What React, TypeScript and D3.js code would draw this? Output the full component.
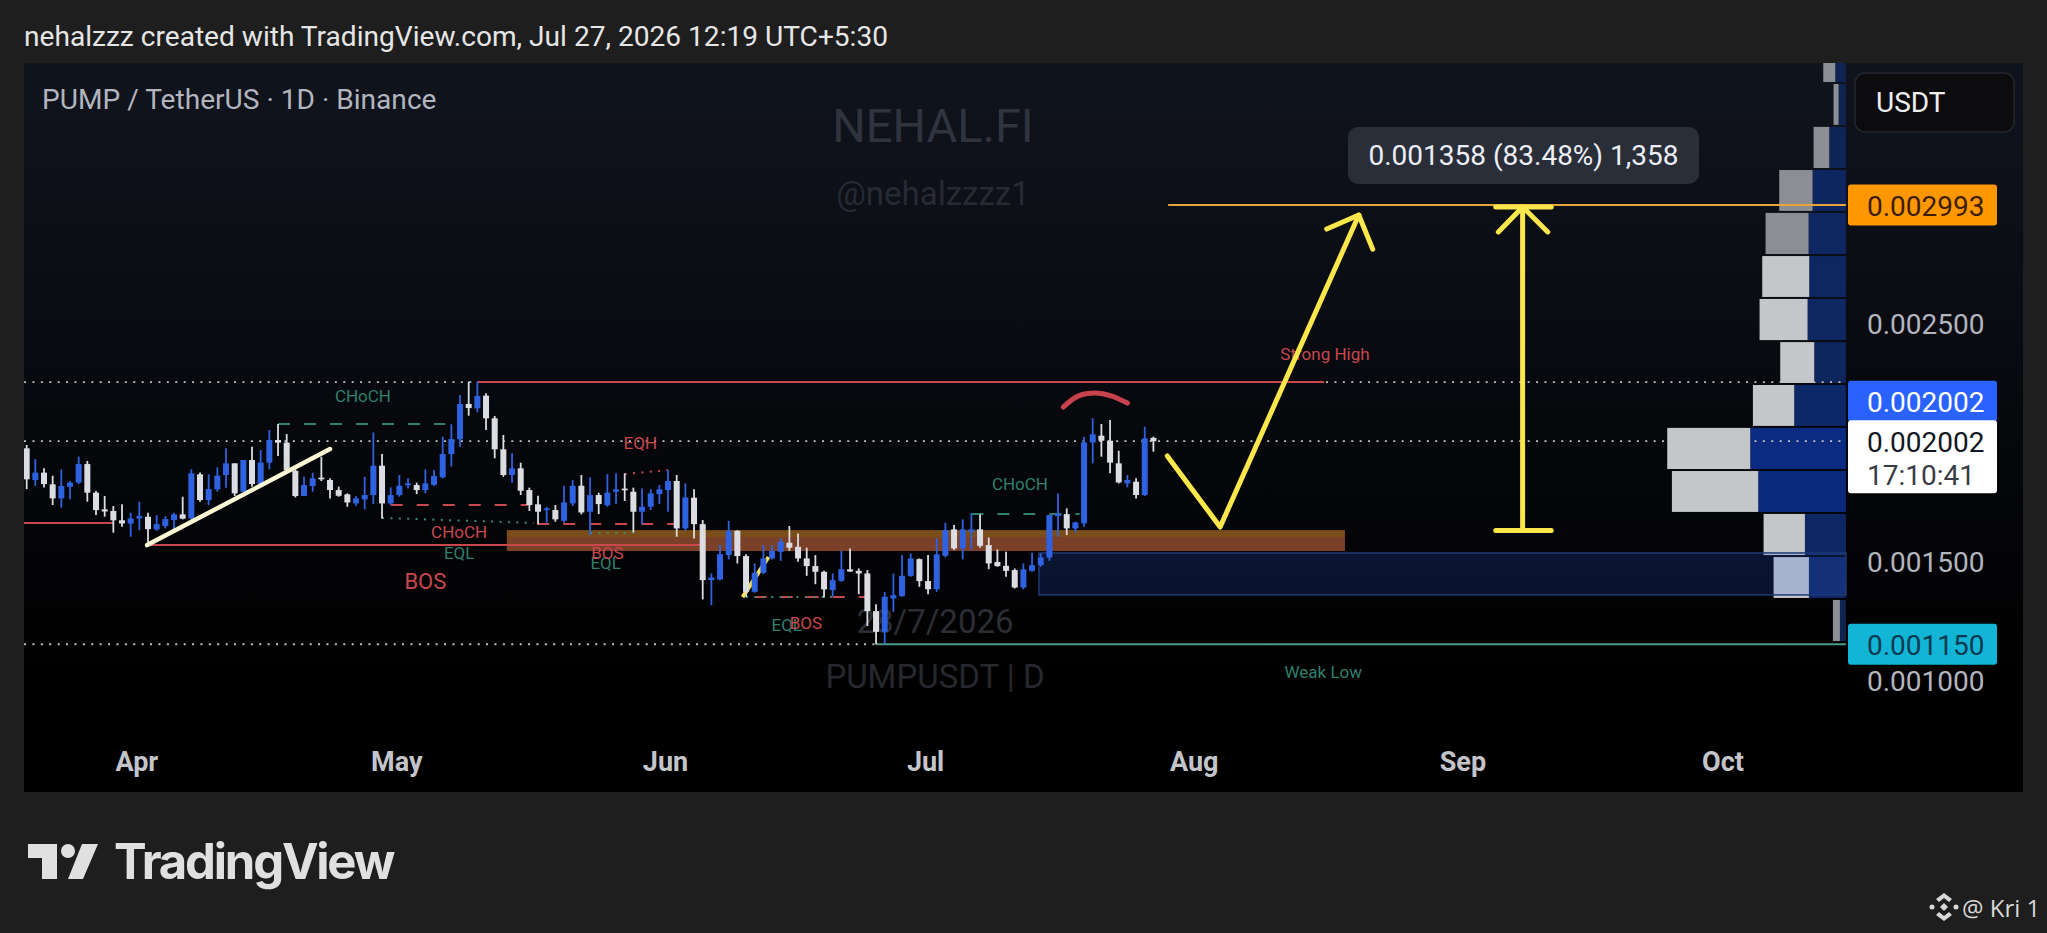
import { useEffect, useRef } from "react"
import * as d3 from "d3"

const WIDTH = 2047
const HEIGHT = 933
const FONT = "Roboto, sans-serif"

// daily candles from 2026-03-19 to 2026-07-27, prices in millionths of USDT
const opens = [
  1972, 1839, 1870, 1821, 1762, 1811, 1828, 1906, 1786, 1716, 1709, 1670, 1656, 1678, 1685, 1632, 1646, 1671, 1695, 1678,
  1863, 1755, 1800, 1860, 1909, 1790, 1923, 1822, 1912, 2007, 1996, 1878, 1772, 1814, 1849, 1839, 1797, 1779, 1741, 1758,
  1776, 1899, 1741, 1776, 1817, 1818, 1797, 1819, 1850, 1948, 2010, 2158, 2140, 2193, 2098, 1968, 1860, 1888, 1797, 1737,
  1713, 1713, 1668, 1741, 1815, 1706, 1776, 1733, 1790, 1803, 1790, 1706, 1727, 1780, 1797, 1835, 1636, 1765, 1654, 1419,
  1422, 1524, 1626, 1520, 1370, 1450, 1510, 1538, 1576, 1559, 1510, 1478, 1454, 1377, 1416, 1464, 1458, 1447, 1289, 1202,
  1342, 1352, 1437, 1507, 1415, 1381, 1521, 1632, 1552, 1622, 1632, 1566, 1495, 1479, 1461, 1388, 1458, 1482, 1514, 1688,
  1696, 1636, 1657, 1997, 2025, 2004, 1909, 1825, 1832, 1776, 2016,
]
const highs = [
  1986, 1927, 1888, 1857, 1884, 1835, 1937, 1919, 1793, 1772, 1730, 1737, 1702, 1748, 1702, 1692, 1688, 1702, 1769, 1884,
  1871, 1863, 1892, 1972, 1909, 1923, 1979, 1965, 2049, 2074, 2032, 1892, 1853, 1870, 1937, 1846, 1811, 1783, 1772, 1853,
  2039, 1948, 1808, 1860, 1846, 1828, 1884, 1881, 2021, 2073, 2196, 2252, 2252, 2203, 2108, 2028, 1951, 1912, 1807, 1773,
  1727, 1734, 1814, 1839, 1860, 1850, 1786, 1864, 1867, 1867, 1807, 1804, 1801, 1818, 1881, 1860, 1825, 1800, 1671, 1447,
  1566, 1668, 1629, 1528, 1489, 1566, 1566, 1594, 1646, 1615, 1555, 1524, 1458, 1447, 1542, 1552, 1468, 1461, 1318, 1370,
  1447, 1524, 1531, 1510, 1524, 1594, 1660, 1650, 1674, 1699, 1695, 1598, 1548, 1538, 1468, 1489, 1534, 1531, 1692, 1783,
  1720, 1664, 2021, 2098, 2074, 2091, 1962, 1860, 1846, 2063, 2021,
]
const lows = [
  1801, 1814, 1808, 1734, 1723, 1758, 1822, 1748, 1692, 1685, 1618, 1643, 1601, 1629, 1573, 1626, 1636, 1629, 1674, 1671,
  1748, 1734, 1790, 1807, 1772, 1776, 1811, 1811, 1884, 1940, 1878, 1766, 1772, 1790, 1835, 1762, 1769, 1727, 1731, 1716,
  1738, 1678, 1734, 1769, 1804, 1780, 1783, 1814, 1846, 1895, 1979, 2109, 2123, 2049, 1930, 1853, 1828, 1776, 1709, 1654,
  1660, 1664, 1660, 1730, 1695, 1608, 1696, 1727, 1738, 1751, 1619, 1654, 1713, 1738, 1706, 1601, 1626, 1594, 1338, 1314,
  1419, 1506, 1489, 1349, 1366, 1444, 1506, 1500, 1542, 1496, 1437, 1402, 1346, 1349, 1412, 1454, 1360, 1226, 1150, 1153,
  1286, 1349, 1433, 1391, 1360, 1370, 1514, 1545, 1506, 1548, 1555, 1465, 1475, 1433, 1384, 1380, 1454, 1475, 1500, 1601,
  1608, 1618, 1643, 1909, 1937, 1867, 1825, 1808, 1762, 1772, 1958,
]
const closes = [
  1842, 1870, 1822, 1762, 1814, 1828, 1906, 1786, 1713, 1707, 1670, 1657, 1678, 1688, 1633, 1654, 1675, 1695, 1677, 1867,
  1755, 1801, 1857, 1909, 1783, 1923, 1822, 1912, 2007, 1996, 1881, 1772, 1818, 1846, 1842, 1797, 1773, 1745, 1762, 1776,
  1899, 1741, 1776, 1815, 1825, 1797, 1825, 1856, 1948, 2011, 2158, 2141, 2192, 2098, 1968, 1860, 1888, 1794, 1734, 1706,
  1720, 1674, 1745, 1815, 1703, 1776, 1738, 1786, 1800, 1796, 1706, 1727, 1783, 1800, 1835, 1636, 1766, 1654, 1419, 1430,
  1528, 1626, 1520, 1370, 1450, 1510, 1542, 1580, 1555, 1510, 1478, 1454, 1380, 1419, 1465, 1455, 1447, 1289, 1202, 1349,
  1356, 1437, 1510, 1415, 1381, 1527, 1629, 1552, 1632, 1632, 1563, 1489, 1478, 1458, 1388, 1464, 1482, 1514, 1692, 1696,
  1636, 1661, 1997, 2031, 2004, 1912, 1829, 1839, 1776, 2014, 2002,
]

const monthTicks = ["2026-04-01", "2026-05-01", "2026-06-01", "2026-07-01", "2026-08-01", "2026-09-01", "2026-10-01"]
const priceTicks = [1000, 1500, 2500]

// visible range profile, bottom bin first
const profileEdges = [1159, 1340, 1520, 1701, 1881, 2062, 2242, 2422, 2603, 2783, 2964, 3144, 3325, 3505, 3686]
const profileUp = [18, 111, 123, 263, 287, 155, 95, 115, 110, 112, 100, 50, 22, 32]
const profileDown = [21, 106, 124, 259, 249, 124, 102, 144, 141, 129, 100, 47, 15, 36]

// structure levels as [first bar, last bar, price]
const redLevels = [
  [-0.3, 10, 1659],
  [14, 78, 1566],
  [52, 149.7, 2250],
]
const redDashed = [
  [42, 57.8, 1734],
  [58.9, 74.8, 1655],
  [84, 97, 1348],
]
const tealDashed = [
  [29, 48.3, 2074],
  [109, 121.5, 1696],
]
const tealDotted = [
  [41, 58.5, 1680, 1659],
  [65, 70, 1617, 1617],
  [83, 93, 1348, 1348],
]
const dottedLevels = [
  [-0.3, 209.9, 2250],
  [-0.3, 209.9, 2002],
  [-0.3, 98, 1150],
]

const smcLabels = [
  { text: "CHoCH", bar: 38.8, price: 2192, tone: "teal", size: 17 },
  { text: "CHoCH", bar: 49.9, price: 1621, tone: "red", size: 17 },
  { text: "EQL", bar: 49.9, price: 1533, tone: "teal", size: 17 },
  { text: "BOS", bar: 46, price: 1415, tone: "red", size: 22 },
  { text: "EQH", bar: 70.8, price: 1994, tone: "red", size: 17 },
  { text: "EQL", bar: 66.8, price: 1491, tone: "teal", size: 17 },
  { text: "BOS", bar: 67, price: 1533, tone: "red", size: 17 },
  { text: "EQL", bar: 87.7, price: 1231, tone: "teal", size: 17 },
  { text: "BOS", bar: 89.9, price: 1239, tone: "red", size: 17 },
  { text: "CHoCH", bar: 114.6, price: 1822, tone: "teal", size: 17 },
  { text: "Strong High", bar: 149.8, price: 2368, tone: "red", size: 17 },
  { text: "Weak Low", bar: 149.6, price: 1034, tone: "teal", size: 17 },
]

// hand drawn marks as [bar, price]
const trendLine = [
  [13.9, 1566],
  [35, 1969],
]
const smallRise = [
  [82.6, 1348],
  [85.6, 1516],
]
const domeArc = [
  [119.6, 2145],
  [121.3, 2191],
  [123.3, 2204],
  [125.2, 2191],
  [127, 2162],
]
const forecastPath = [
  [131.6, 1940],
  [137.7, 1642],
  [153.7, 2951],
]
const forecastHead = [
  [150, 2892],
  [153.7, 2951],
  [155.3, 2808],
]
const measureShaft = [
  [172.6, 1627],
  [172.6, 2985],
]
const measureCaps = [
  [169.5, 175.9, 1627],
  [169.5, 175.9, 2985],
]
const measureHead = [
  [169.8, 2880],
  [172.6, 2985],
  [175.5, 2880],
]
const targetLevel = [131.7, 209.9, 2993]

const App = () => {
  const svgRef = useRef<SVGSVGElement | null>(null)

  useEffect(() => {
    if (!svgRef.current) return
    const svg = d3.select(svgRef.current)
    svg.selectAll("*").remove()

    const x = d3
      .scaleUtc()
      .domain([new Date("2026-03-19"), new Date("2026-07-27")])
      .range([26.67, 1153.4])
    const t0 = +new Date("2026-03-19")
    const xAt = (bar: number) => x(new Date(t0 + bar * 86400000))
    const y = d3.scaleLinear().domain([1000, 2993]).range([680, 205])
    const panel = { x: 24, y: 63, w: 1999, h: 729 }
    const plotRight = xAt(209.9)
    const profileX = d3.scaleLinear().domain([0, 600]).range([plotRight, plotRight - 200])
    const blueShade = d3.scaleLinear<string>().domain([18, 287]).range(["#0f2450", "#0b2b82"])
    const tradeLine = d3
      .line<number[]>()
      .x((d) => xAt(d[0]))
      .y((d) => y(d[1]))

    svg.append("rect").attr("width", WIDTH).attr("height", HEIGHT).attr("fill", "#1e1e1e")

    const defs = svg.append("defs")
    const grad = defs
      .append("linearGradient")
      .attr("id", "panel-bg")
      .attr("x1", 0)
      .attr("x2", 0)
      .attr("y1", 0)
      .attr("y2", 1)
    grad.append("stop").attr("offset", "0%").attr("stop-color", "#10141d")
    grad.append("stop").attr("offset", "35%").attr("stop-color", "#0a0c12")
    grad.append("stop").attr("offset", "60%").attr("stop-color", "#040508")
    grad.append("stop").attr("offset", "85%").attr("stop-color", "#000000")
    defs
      .append("clipPath")
      .attr("id", "panel-clip")
      .append("rect")
      .attr("x", panel.x)
      .attr("y", panel.y)
      .attr("width", panel.w)
      .attr("height", panel.h)

    svg
      .append("rect")
      .attr("x", panel.x)
      .attr("y", panel.y)
      .attr("width", panel.w)
      .attr("height", panel.h)
      .attr("fill", "url(#panel-bg)")

    const plot = svg.append("g").attr("clip-path", "url(#panel-clip)").style("font-family", FONT)

    // watermarks sit under everything
    const marks: [string, number, number, number, string][] = [
      ["NEHAL.FI", 933, 125, 47, "#30343e"],
      ["@nehalzzzz1", 933, 193, 33, "#262a33"],
      ["28/7/2026", 935, 621, 33, "#2c2e34"],
      ["PUMPUSDT | D", 935, 676, 33, "#26282d"],
    ]
    plot
      .selectAll("text.mark")
      .data(marks)
      .join("text")
      .attr("class", "mark")
      .attr("x", (d) => d[1])
      .attr("y", (d) => d[2])
      .attr("font-size", (d) => d[3])
      .attr("fill", (d) => d[4])
      .attr("text-anchor", "middle")
      .attr("dominant-baseline", "central")
      .text((d) => d[0])

    // volume profile
    const bins = profileUp.map((up, i) => ({ up, down: profileDown[i], lo: profileEdges[i], hi: profileEdges[i + 1], i }))
    const profile = plot.append("g")
    profile
      .selectAll("rect.up")
      .data(bins)
      .join("rect")
      .attr("class", "up")
      .attr("x", (d) => profileX(d.up))
      .attr("width", (d) => plotRight - profileX(d.up))
      .attr("y", (d) => y(d.hi) + 1)
      .attr("height", (d) => y(d.lo) - y(d.hi) - 2)
      .attr("fill", (d) => blueShade(d.up))
    profile
      .selectAll("rect.down")
      .data(bins)
      .join("rect")
      .attr("class", "down")
      .attr("x", (d) => profileX(d.up + d.down))
      .attr("width", (d) => profileX(d.up) - profileX(d.up + d.down))
      .attr("y", (d) => y(d.hi) + 1)
      .attr("height", (d) => y(d.lo) - y(d.hi) - 2)
      .attr("fill", (d) => (d.i >= 9 || d.i === 0 ? "#8d8e93" : "#c4c6c9"))

    // demand zones
    plot
      .append("rect")
      .attr("x", xAt(116.8))
      .attr("width", plotRight - xAt(116.8))
      .attr("y", y(1533))
      .attr("height", y(1357) - y(1533))
      .attr("fill", "rgba(45,95,230,0.19)")
      .attr("stroke", "#1e3a75")
      .attr("stroke-width", 1.5)
    plot
      .append("rect")
      .attr("x", xAt(55.4))
      .attr("width", xAt(152.1) - xAt(55.4))
      .attr("y", y(1629))
      .attr("height", y(1541) - y(1629))
      .attr("fill", "#7b4d19")
    plot
      .append("rect")
      .attr("x", xAt(55.4))
      .attr("width", xAt(152.1) - xAt(55.4))
      .attr("y", y(1600))
      .attr("height", y(1541) - y(1600))
      .attr("fill", "rgba(120,40,70,0.35)")

    // structure lines
    const levels = plot.append("g").attr("fill", "none")
    levels
      .selectAll("line.dot")
      .data(dottedLevels)
      .join("line")
      .attr("class", "dot")
      .attr("x1", (d) => xAt(d[0]))
      .attr("x2", (d) => xAt(d[1]))
      .attr("y1", (d) => y(d[2]))
      .attr("y2", (d) => y(d[2]))
      .attr("stroke", "#c4c4bc")
      .attr("stroke-width", 1.8)
      .attr("stroke-dasharray", "2 6.4")
    levels
      .append("line")
      .attr("x1", xAt(98))
      .attr("x2", plotRight)
      .attr("y1", y(1150))
      .attr("y2", y(1150))
      .attr("stroke", "#4f9c8c")
      .attr("stroke-width", 2)
    levels
      .selectAll("line.red")
      .data(redLevels)
      .join("line")
      .attr("class", "red")
      .attr("x1", (d) => xAt(d[0]))
      .attr("x2", (d) => xAt(d[1]))
      .attr("y1", (d) => y(d[2]))
      .attr("y2", (d) => y(d[2]))
      .attr("stroke", "#c8484e")
      .attr("stroke-width", 2)
    levels
      .selectAll("line.reddash")
      .data(redDashed)
      .join("line")
      .attr("class", "reddash")
      .attr("x1", (d) => xAt(d[0]))
      .attr("x2", (d) => xAt(d[1]))
      .attr("y1", (d) => y(d[2]))
      .attr("y2", (d) => y(d[2]))
      .attr("stroke", "#c8484e")
      .attr("stroke-width", 2)
      .attr("stroke-dasharray", "12 14")
    levels
      .selectAll("line.tealdash")
      .data(tealDashed)
      .join("line")
      .attr("class", "tealdash")
      .attr("x1", (d) => xAt(d[0]))
      .attr("x2", (d) => xAt(d[1]))
      .attr("y1", (d) => y(d[2]))
      .attr("y2", (d) => y(d[2]))
      .attr("stroke", "#2f7f6b")
      .attr("stroke-width", 2)
      .attr("stroke-dasharray", "12 14")
    levels
      .selectAll("line.tealdot")
      .data(tealDotted)
      .join("line")
      .attr("class", "tealdot")
      .attr("x1", (d) => xAt(d[0]))
      .attr("x2", (d) => xAt(d[1]))
      .attr("y1", (d) => y(d[2]))
      .attr("y2", (d) => y(d[3]))
      .attr("stroke", "#3f8a74")
      .attr("stroke-width", 2)
      .attr("stroke-dasharray", "2 6.4")
    levels
      .append("path")
      .attr(
        "d",
        tradeLine([
          [69, 1864],
          [74, 1881],
        ]),
      )
      .attr("stroke", "#c8484e")
      .attr("stroke-width", 2)
      .attr("stroke-dasharray", "2 6.4")

    plot
      .append("path")
      .attr("d", tradeLine(smallRise))
      .attr("fill", "none")
      .attr("stroke", "#f6e05a")
      .attr("stroke-width", 4)

    // candles
    const candles = opens.map((o, i) => ({ i, o, h: highs[i], l: lows[i], c: closes[i] }))
    const tone = (d: { o: number; c: number }) => (d.c >= d.o ? "#2f62e0" : "#dcdde2")
    const candle = plot
      .append("g")
      .selectAll("g")
      .data(candles)
      .join("g")
      .attr("transform", (d) => `translate(${xAt(d.i)},0)`)
    candle
      .append("line")
      .attr("y1", (d) => y(d.h))
      .attr("y2", (d) => y(d.l))
      .attr("stroke", tone)
      .attr("stroke-width", 1.8)
    candle
      .append("rect")
      .attr("x", -3)
      .attr("width", 6)
      .attr("y", (d) => y(Math.max(d.o, d.c)))
      .attr("height", (d) => Math.max(1.5, Math.abs(y(d.o) - y(d.c))))
      .attr("fill", tone)

    plot
      .append("path")
      .attr("d", tradeLine(trendLine))
      .attr("fill", "none")
      .attr("stroke", "#fbf6d4")
      .attr("stroke-width", 4.5)
      .attr("stroke-linecap", "round")

    // smart money labels
    plot
      .selectAll("text.smc")
      .data(smcLabels)
      .join("text")
      .attr("class", "smc")
      .attr("x", (d) => xAt(d.bar))
      .attr("y", (d) => y(d.price))
      .attr("font-size", (d) => d.size)
      .attr("fill", (d) => (d.tone === "red" ? "#c8484e" : "#2f7f6b"))
      .attr("text-anchor", "middle")
      .attr("dominant-baseline", "central")
      .text((d) => d.text)

    // drawn forecast
    plot
      .append("line")
      .attr("x1", xAt(targetLevel[0]))
      .attr("x2", xAt(targetLevel[1]))
      .attr("y1", y(targetLevel[2]))
      .attr("y2", y(targetLevel[2]))
      .attr("stroke", "#e8a33c")
      .attr("stroke-width", 2)
    const ink = plot
      .append("g")
      .attr("fill", "none")
      .attr("stroke", "#fbe74b")
      .attr("stroke-width", 5)
      .attr("stroke-linecap", "round")
      .attr("stroke-linejoin", "round")
    ink.append("path").attr("d", tradeLine(forecastPath))
    ink.append("path").attr("d", tradeLine(forecastHead))
    ink.append("path").attr("d", tradeLine(measureShaft))
    ink.append("path").attr("d", tradeLine(measureHead))
    ink
      .selectAll("line")
      .data(measureCaps)
      .join("line")
      .attr("x1", (d) => xAt(d[0]))
      .attr("x2", (d) => xAt(d[1]))
      .attr("y1", (d) => y(d[2]))
      .attr("y2", (d) => y(d[2]))
    plot
      .append("path")
      .attr("d", tradeLine.curve(d3.curveCatmullRom)(domeArc))
      .attr("fill", "none")
      .attr("stroke", "#c8424e")
      .attr("stroke-width", 5)
      .attr("stroke-linecap", "round")

    // measure bubble
    plot
      .append("rect")
      .attr("x", 1348)
      .attr("y", 127)
      .attr("width", 351)
      .attr("height", 57)
      .attr("rx", 10)
      .attr("fill", "#2a2e39")
    plot
      .append("text")
      .attr("x", 1523.5)
      .attr("y", 155)
      .attr("font-size", 28)
      .attr("fill", "#eceff4")
      .attr("text-anchor", "middle")
      .attr("dominant-baseline", "central")
      .text("0.001358 (83.48%) 1,358")

    // axes
    const timeAxis = d3
      .axisBottom(x)
      .tickValues(monthTicks.map((d) => new Date(d)))
      .tickFormat((d) => d3.utcFormat("%b")(d as Date))
      .tickSize(0)
    const timeG = svg.append("g").attr("transform", "translate(-3,761)").call(timeAxis)
    timeG.select(".domain").remove()
    timeG
      .selectAll("text")
      .attr("y", 0)
      .attr("dy", "0.37em")
      .attr("fill", "#c3c5ca")
      .attr("font-size", 27)
      .attr("font-weight", 700)
      .attr("font-family", FONT)

    const priceAxis = d3
      .axisRight(y)
      .tickValues(priceTicks)
      .tickFormat((d) => ((d as number) / 1e6).toFixed(6))
      .tickSize(0)
    const priceG = svg.append("g").attr("transform", "translate(1867,1)").call(priceAxis)
    priceG.select(".domain").remove()
    priceG
      .selectAll("text")
      .attr("x", 0)
      .attr("dy", "0.35em")
      .attr("fill", "#b2b5be")
      .attr("font-size", 28)
      .attr("font-family", FONT)

    // price tags: value, fill, text colour, offset from the level
    const tags: [number, string, string, number][] = [
      [2993, "#ff9800", "#3d1d00", 0],
      [2002, "#2962ff", "#ffffff", -40],
      [1150, "#12b5d6", "#0a3a50", 0],
    ]
    const tagG = svg.append("g").style("font-family", FONT)
    tagG
      .selectAll("rect")
      .data(tags)
      .join("rect")
      .attr("x", 1848)
      .attr("width", 149)
      .attr("y", (d) => y(d[0]) + d[3] - 20.5)
      .attr("height", 41)
      .attr("rx", 3)
      .attr("fill", (d) => d[1])
    tagG
      .selectAll("text")
      .data(tags)
      .join("text")
      .attr("x", 1867)
      .attr("y", (d) => y(d[0]) + d[3] + 1)
      .attr("dominant-baseline", "central")
      .attr("font-size", 28)
      .attr("fill", (d) => d[2])
      .text((d) => (d[0] / 1e6).toFixed(6))
    const lastTag = svg.append("g").style("font-family", FONT)
    lastTag
      .append("rect")
      .attr("x", 1848)
      .attr("y", y(2002) - 21)
      .attr("width", 149)
      .attr("height", 73)
      .attr("rx", 3)
      .attr("fill", "#ffffff")
    lastTag
      .append("text")
      .attr("x", 1867)
      .attr("y", y(2002) + 1)
      .attr("dominant-baseline", "central")
      .attr("font-size", 28)
      .attr("fill", "#131722")
      .text("0.002002")
    lastTag
      .append("text")
      .attr("x", 1867)
      .attr("y", y(2002) + 34)
      .attr("dominant-baseline", "central")
      .attr("font-size", 28)
      .attr("fill", "#3a3d45")
      .text("17:10:41")

    // currency button
    svg
      .append("rect")
      .attr("x", 1855)
      .attr("y", 73)
      .attr("width", 159)
      .attr("height", 59)
      .attr("rx", 10)
      .attr("fill", "#0c0c0e")
      .attr("stroke", "#23262e")
      .attr("stroke-width", 1.5)
    svg
      .append("text")
      .attr("x", 1876)
      .attr("y", 102)
      .attr("dominant-baseline", "central")
      .attr("font-size", 28)
      .attr("font-family", FONT)
      .attr("fill", "#eeeeee")
      .text("USDT")

    // captions
    svg
      .append("text")
      .attr("x", 24)
      .attr("y", 36)
      .attr("dominant-baseline", "central")
      .attr("font-size", 28.1)
      .attr("font-family", FONT)
      .attr("fill", "#e6e6e6")
      .text("nehalzzz created with TradingView.com, Jul 27, 2026 12:19 UTC+5:30")
    svg
      .append("text")
      .attr("x", 42)
      .attr("y", 99)
      .attr("dominant-baseline", "central")
      .attr("font-size", 28.1)
      .attr("font-family", FONT)
      .attr("fill", "#b2b5be")
      .text("PUMP / TetherUS · 1D · Binance")

    // TradingView logo
    const logo = svg.append("g").attr("fill", "#e0e0e0")
    logo.append("path").attr("d", "M28 844H57V879H42V858H28Z")
    logo.append("circle").attr("cx", 68).attr("cy", 851).attr("r", 7)
    logo.append("path").attr("d", "M82 844H98L83 879H68Z")
    logo
      .append("text")
      .attr("x", 114)
      .attr("y", 879)
      .attr("font-size", 49)
      .attr("font-weight", 700)
      .attr("font-family", "Inter, sans-serif")
      .attr("letter-spacing", "-2.2")
      .text("TradingView")

    // credit in the corner
    const credit = svg.append("g").attr("fill", "#d8d8d8")
    credit.append("path").attr("d", "M1944 893l8 6-3 3-5-4-5 4-3-3ZM1944 921l8-6-3-3-5 4-5-4-3 3ZM1944 903l4 4-4 4-4-4Z")
    credit.append("circle").attr("cx", 1932).attr("cy", 907).attr("r", 2.5)
    credit.append("circle").attr("cx", 1956).attr("cy", 907).attr("r", 2.5)
    credit
      .append("text")
      .attr("x", 1962)
      .attr("y", 907)
      .attr("dominant-baseline", "central")
      .attr("font-size", 24)
      .attr("font-family", "'Open Sans', sans-serif")
      .text("@ Kri 1")
  }, [])

  return <svg ref={svgRef} width={WIDTH} height={HEIGHT} style={{ position: "absolute", left: 0, top: 0, display: "block" }} />
}

export default App
